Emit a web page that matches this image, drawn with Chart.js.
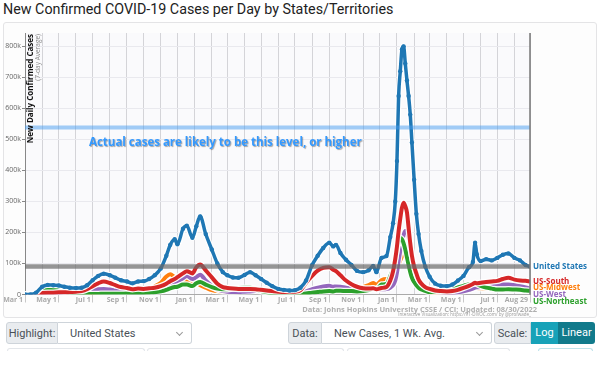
<!DOCTYPE html>
<html>
<head>
<meta charset="utf-8">
<script src="https://cdn.jsdelivr.net/npm/chart.js@4.4.1/dist/chart.umd.min.js"></script>
<style>
  body { margin: 0; width: 600px; height: 386px; background: #fff; position: relative; overflow: hidden;
         font-family: Roboto, "Helvetica Neue", Arial, sans-serif; }
  #title { position: absolute; left: 3px; top: 1px; font-size: 14.3px; color: #222; white-space: nowrap; }
  #card { position: absolute; left: 3px; top: 22px; width: 592px; height: 294px; border: 1px solid #e4e4e6;
          border-radius: 3px; background: #fdfdfd; }
  #card canvas { position: absolute; left: 0; top: 0; }
  .lbl, .sel, .btn { position: absolute; top: 322px; height: 22px; line-height: 22px; font-size: 11px; box-sizing: border-box; }
  .lbl { background: #e9ecef; border: 1px solid #ced4da; color: #495057; text-align: center; border-radius: 3px 0 0 3px; }
  .sel { background: #fff; border: 1px solid #ced4da; border-left: none; color: #495057; padding-left: 12px; border-radius: 0 3px 3px 0; }
  .sel::after { content: ""; position: absolute; right: 9px; top: 7px; width: 4px; height: 4px;
                border-right: 1px solid #999; border-bottom: 1px solid #999; transform: rotate(45deg); }
  .btn { color: #fff; text-align: center; }
  .row2 { position: absolute; top: 348px; height: 8px; border: 1px solid #e3e6ea; border-bottom: none; border-radius: 3px 3px 0 0; }
  #clip { position: absolute; left: 0; top: 346px; width: 600px; height: 5px; overflow: hidden; }
</style>
</head>
<body>
<div id="title">New Confirmed COVID-19 Cases per Day by States/Territories</div>
<div id="card"><canvas id="chart" width="592" height="294"></canvas></div>

<div class="lbl" style="left:6px; width:52px;">Highlight:</div>
<div class="sel" style="left:58px; width:134px;">United States</div>
<div class="lbl" style="left:288px; width:34px;">Data:</div>
<div class="sel" style="left:322px; width:170px;">New Cases, 1 Wk. Avg.</div>
<div class="lbl" style="left:494px; width:37px;">Scale:</div>
<div class="btn" style="left:531px; width:27px; background:#17a2b8;">Log</div>
<div class="btn" style="left:558px; width:37px; background:#117a8b; border-radius:0 3px 3px 0;">Linear</div>
<div id="clip">
  <div class="row2" style="left:7px; top:2px; width:136px;"></div>
  <div class="row2" style="left:147px; top:2px; width:195px;"></div>
  <div class="row2" style="left:347px; top:2px; width:161px;"></div>
  <div class="row2" style="left:538px; top:2px; width:53px; border-color:#bfe3ea;"></div>
</div>

<script>
// dates of the sampled 7-day averages
const dates = [
  '2020-03-01','2020-03-11','2020-03-21','2020-04-01','2020-04-11','2020-04-21','2020-05-01','2020-05-11',
  '2020-05-21','2020-06-01','2020-06-11','2020-06-21','2020-07-01','2020-07-11','2020-07-21','2020-08-01',
  '2020-08-11','2020-08-21','2020-09-01','2020-09-11','2020-09-21','2020-10-01','2020-10-11','2020-10-21',
  '2020-11-01','2020-11-11','2020-11-18','2020-11-26','2020-12-01','2020-12-11','2020-12-18','2020-12-28',
  '2021-01-04','2021-01-11','2021-01-21','2021-02-01','2021-02-11','2021-02-21','2021-03-01','2021-03-11',
  '2021-03-21','2021-04-01','2021-04-11','2021-04-21','2021-05-01','2021-05-11','2021-05-21','2021-06-01',
  '2021-06-11','2021-06-21','2021-07-01','2021-07-11','2021-07-21','2021-08-01','2021-08-11','2021-08-21',
  '2021-09-01','2021-09-08','2021-09-13','2021-09-21','2021-10-01','2021-10-11','2021-10-21','2021-11-01',
  '2021-11-11','2021-11-19','2021-11-25','2021-12-04','2021-12-13','2021-12-20','2021-12-25','2021-12-29',
  '2022-01-01','2022-01-04','2022-01-07','2022-01-10','2022-01-13','2022-01-16','2022-01-19','2022-01-22',
  '2022-01-25','2022-01-28','2022-02-01','2022-02-05','2022-02-09','2022-02-14','2022-02-21','2022-03-01',
  '2022-03-11','2022-03-21','2022-04-01','2022-04-11','2022-04-21','2022-05-01','2022-05-11','2022-05-18',
  '2022-05-22','2022-05-25','2022-06-01','2022-06-11','2022-06-21','2022-07-01','2022-07-11','2022-07-21',
  '2022-08-01','2022-08-11','2022-08-21','2022-08-29'
];

// new cases per day, 7-day average, in thousands
const unitedStates = [
  0, 0.3, 6, 25, 31, 30, 29, 25, 22, 21, 22, 30, 46, 60, 67, 62, 54, 46, 42, 36, 42, 43, 50, 62, 84, 125, 160, 178, 162, 212, 222, 183,
  220, 252, 195, 145, 100, 72, 62, 55, 54, 63, 72, 62, 50, 38, 27, 18, 15, 13, 14, 22, 45, 95, 125, 150, 167, 155, 160, 134, 112, 95, 76, 72, 78, 92, 72, 118, 124, 185, 230, 300,
  430, 640, 720, 790, 800, 745, 690, 640, 580, 490, 370, 260, 195, 140, 90, 57, 35, 28, 27, 32, 45, 60, 88, 105, 167, 130, 108, 114, 110, 118, 128, 132, 118, 110, 95, 90
];
const usSouth = [
  0, 0.05, 1, 5, 6, 6, 7, 7, 8, 9, 11, 17, 27, 36, 42, 37, 30, 24, 21, 17, 19, 18, 20, 22, 27, 35, 43, 50, 56, 68, 75, 68,
  88, 97, 78, 55, 35, 24, 21, 19, 18, 18, 18, 17, 15, 13, 11, 9, 8, 8, 9, 14, 38, 60, 77, 86, 88, 80, 75, 62, 45, 33, 25, 20, 19, 20, 17, 21, 24, 45, 75, 115,
  155, 205, 245, 280, 296, 285, 265, 215, 165, 125, 90, 68, 48, 35, 24, 18, 13, 11, 10, 11, 15, 21, 28, 34, 38, 36, 38, 40, 42, 44, 50, 54, 48, 45, 44, 42
];
const usMidwest = [
  0, 0.03, 0.8, 4, 5, 6, 7, 6, 6, 5, 4, 4, 6, 7, 8, 9, 9, 9, 10, 10, 12, 14, 18, 26, 38, 58, 65, 56, 53, 47, 42, 36,
  37, 30, 22, 14, 11, 9, 9, 9, 11, 14, 18, 16, 12, 9, 6, 3.5, 2.5, 2, 2.2, 3, 6, 10, 14, 17, 20, 19, 22, 22, 23, 24, 22, 24, 30, 37, 32, 46, 50, 50, 52, 62,
  75, 95, 110, 122, 130, 134, 128, 112, 92, 72, 52, 38, 27, 18, 12, 7, 5, 4.5, 4.5, 6, 9, 13, 17, 20, 21, 21, 20, 20, 21, 22, 25, 26, 25, 24, 23, 22
];
const usWest = [
  0, 0.1, 1, 3, 3.5, 3.5, 3.5, 3.5, 4, 4.5, 6, 8, 13, 17, 18, 16, 13, 10, 8, 6, 7, 7, 8, 10, 13, 20, 28, 40, 43, 52, 60, 50,
  56, 64, 45, 28, 16, 11, 9, 8, 8, 9, 10, 11, 10, 9, 7, 5, 4.5, 4, 4.5, 6, 10, 17, 22, 26, 28, 25, 26, 25, 22, 20, 17, 16, 17, 18, 15, 17, 18, 22, 30, 45,
  70, 110, 140, 168, 192, 205, 205, 185, 158, 128, 98, 72, 50, 33, 20, 11, 8, 6, 5, 5, 7, 10, 15, 19, 22, 23, 24, 28, 30, 32, 32, 32, 30, 27, 23, 19
];
const usNortheast = [
  0, 0.1, 3.5, 14, 20, 17, 13, 9, 6, 4, 2.5, 2, 2, 2, 2.5, 2.5, 2.5, 2.5, 3, 3, 4, 5, 6, 7, 10, 15, 20, 24, 25, 32, 32, 27,
  36, 40, 32, 24, 19, 17, 17, 19, 21, 22, 22, 17, 11, 7, 4, 2, 1.2, 0.8, 0.8, 1.5, 3, 6, 8, 10, 11, 10, 12, 12, 11, 11, 10, 11, 14, 19, 17, 32, 34, 60, 85, 120,
  150, 172, 182, 178, 165, 145, 120, 95, 72, 54, 40, 30, 22, 16, 12, 8, 8, 9, 12, 17, 23, 28, 33, 35, 37, 34, 28, 22, 19, 16, 16, 17, 16, 15, 13, 12
];

// axis ticks
const yTicks = [0, 100, 200, 300, 400, 500, 600, 700, 800];
const xTickDates = ['2020-03-01','2020-05-01','2020-07-01','2020-09-01','2020-11-01','2021-01-01','2021-03-01','2021-05-01',
                    '2021-07-01','2021-09-01','2021-11-01','2022-01-01','2022-03-01','2022-05-01','2022-07-01','2022-08-29'];
const xTickLabels = ['Mar 1','May 1','Jul 1','Sep 1','Nov 1','Jan 1','Mar 1','May 1','Jul 1','Sep 1','Nov 1','Jan 1','Mar 1','May 1','Jul 1','Aug 29'];

// reference levels (thousands)
const actualLevel = 538;
const currentLevel = 90;

const startMs = Date.parse('2020-03-01');
const dayOf = s => Math.round((Date.parse(s) - startMs) / 86400000);
const days = dates.map(dayOf);
const lastDay = days[days.length - 1];

// a grid line on every month start, plus the last day
const gridDays = [];
for (let y = 2020, m = 2; ; m++) {
  if (m === 12) { m = 0; y++; }
  const d = dayOf(new Date(Date.UTC(y, m, 1)).toISOString().slice(0, 10));
  if (d > lastDay) break;
  gridDays.push(d);
}
gridDays.push(lastDay);
const labelFor = {};
xTickDates.forEach((s, i) => { labelFor[dayOf(s)] = xTickLabels[i]; });

// top to bottom drawing order
const series = [
  { label: 'United States', data: unitedStates, color: '#1f77b4', width: 3.5, points: true },
  { label: 'US-South', data: usSouth, color: '#d62728', width: 4 },
  { label: 'US-Northeast', data: usNortheast, color: '#2ca02c', width: 4 },
  { label: 'US-West', data: usWest, color: '#9467bd', width: 4 },
  { label: 'US-Midwest', data: usMidwest, color: '#ff7f0e', width: 4 }
];

const datasets = [];
series.forEach((s, i) => {
  const pts = s.data.map((v, k) => ({ x: days[k], y: v }));
  datasets.push({
    label: s.label, data: pts, borderColor: s.color, backgroundColor: s.color,
    borderWidth: s.width, pointRadius: s.points ? 2.2 : 0, pointBorderWidth: 0, order: i * 2
  });
  datasets.push({
    label: s.label + ' outline', data: pts, borderColor: 'rgba(255,255,255,0.95)',
    borderWidth: s.width + 2.5, pointRadius: 0, order: i * 2 + 1
  });
});

const extras = {
  id: 'extras',
  beforeDraw(chart) {
    const { ctx, chartArea: a } = chart;
    ctx.save();
    ctx.fillStyle = '#fafafc';
    ctx.fillRect(a.left, a.top, a.right - a.left, a.bottom - a.top);
    ctx.restore();
  },
  afterDatasetsDraw(chart) {
    const { ctx, chartArea: a, scales: { x, y } } = chart;
    ctx.save();

    function hline(py, color, w) {
      ctx.strokeStyle = color; ctx.lineWidth = w;
      ctx.beginPath(); ctx.moveTo(a.left, py); ctx.lineTo(a.right, py); ctx.stroke();
    }
    const yActual = y.getPixelForValue(actualLevel);
    hline(yActual, 'rgba(70,155,240,0.5)', 4);
    hline(y.getPixelForValue(currentLevel), 'rgba(105,105,105,0.7)', 4.5);

    // end of data
    const xEnd = x.getPixelForValue(lastDay);
    ctx.strokeStyle = '#777'; ctx.lineWidth = 1.5;
    ctx.beginPath(); ctx.moveTo(xEnd, a.top); ctx.lineTo(xEnd, a.bottom); ctx.stroke();

    // annotation
    ctx.font = 'bold 11.5px "Open Sans"';
    ctx.textBaseline = 'middle'; ctx.textAlign = 'left';
    ctx.shadowColor = 'rgba(0,0,0,0.35)'; ctx.shadowOffsetX = 1; ctx.shadowOffsetY = 1; ctx.shadowBlur = 1;
    ctx.fillStyle = '#3399ff';
    ctx.fillText('Actual cases are likely to be this level, or higher', a.left + 64, yActual + 15);
    ctx.shadowColor = 'transparent';

    // y axis title inside plot
    ctx.save();
    ctx.translate(a.left + 6, a.top + 1);
    ctx.rotate(-Math.PI / 2);
    ctx.textAlign = 'right';
    ctx.fillStyle = '#111';
    ctx.font = 'bold 8px "Open Sans"';
    ctx.fillText('New Daily Confirmed Cases', 0, 0);
    ctx.fillStyle = '#888';
    ctx.font = '6.5px "Open Sans"';
    ctx.fillText('(7-day Average)', 0, 7);
    ctx.restore();

    // series labels at line ends
    const ends = series.map(s => ({ s, py: y.getPixelForValue(s.data[s.data.length - 1]) }))
      .sort((p, q) => p.py - q.py);
    let prev = -Infinity;
    ctx.font = 'bold 8px "Open Sans"';
    ctx.textAlign = 'left';
    ends.forEach(e => {
      const py = Math.max(e.py, prev + 6.6);
      prev = py;
      ctx.fillStyle = e.s.color;
      ctx.fillText(e.s.label, a.right + 3, py);
    });

    // source
    ctx.textAlign = 'right';
    ctx.fillStyle = '#b0b0b0';
    ctx.font = 'bold 7.5px "Open Sans"';
    ctx.fillText('Data: Johns Hopkins University CSSE / CCI; Updated: 08/30/2022', a.right + 7, a.bottom + 15);
    ctx.fillStyle = '#999';
    ctx.font = '4.5px "Open Sans"';
    ctx.fillText('Interactive Visualization: https://91-DIVOC.com/ by @profwade_', a.right + 1, a.bottom + 20);
    ctx.restore();
  }
};

new Chart(document.getElementById('chart'), {
  type: 'line',
  data: { datasets: datasets },
  plugins: [extras],
  options: {
    responsive: false,
    animation: false,
    layout: { padding: { left: 0, right: 66, top: 10, bottom: 12.5 } },
    plugins: { legend: { display: false }, tooltip: { enabled: false } },
    elements: { line: { cubicInterpolationMode: 'monotone' } },
    scales: {
      x: {
        type: 'linear', min: 0, max: lastDay,
        afterBuildTicks: s => { s.ticks = gridDays.map(d => ({ value: d })); },
        afterFit: s => { s.height = 10; },
        ticks: {
          autoSkip: false, maxRotation: 0, align: 'end', labelOffset: -2, padding: -7,
          color: '#aaa', font: { size: 7, weight: 'bold', family: '"Open Sans"' },
          callback: v => labelFor[v] || ''
        },
        grid: {
          color: '#d4d4d8', tickLength: 8,
          tickColor: c => (c.tick && labelFor[c.tick.value]) ? '#c8c8c8' : 'rgba(0,0,0,0)'
        },
        border: { color: '#aaa' }
      },
      y: {
        min: 0, max: 843,
        afterBuildTicks: s => { s.ticks = yTicks.map(v => ({ value: v })); },
        afterFit: s => { s.width = 21; },
        ticks: {
          color: '#666', padding: 1, font: { size: 7, family: '"Open Sans"' },
          callback: v => v === 0 ? '0' : v + 'k'
        },
        grid: { color: '#e9e9ee', tickLength: 3, tickColor: '#888' },
        border: { color: '#888' }
      }
    }
  }
});
</script>
</body>
</html>
